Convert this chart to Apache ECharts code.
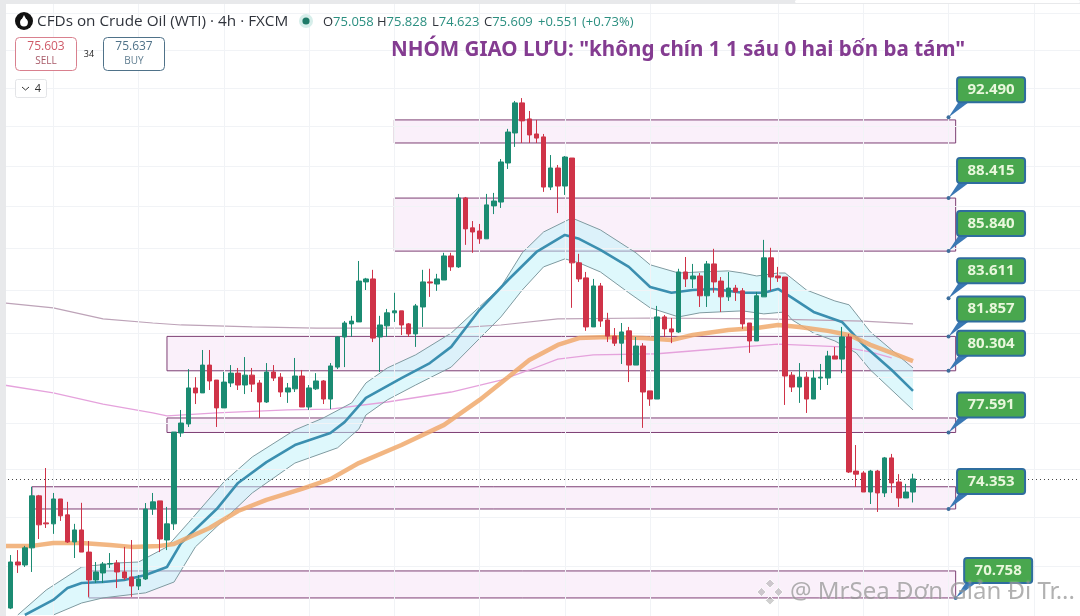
<!DOCTYPE html>
<html><head><meta charset="utf-8">
<script src="https://cdn.jsdelivr.net/npm/echarts@6/dist/echarts.min.js"></script>
<style>html,body{margin:0;padding:0;background:#fff}#c{width:1080px;height:616px}</style>
</head><body><div id="c"></div>
<script>
const opens=[70.36,72.19,72.07,72.76,74.90,73.78,73.74,74.77,74.11,73.00,
73.49,72.59,71.47,71.75,72.11,72.15,71.79,71.59,71.23,71.51,
74.35,74.69,73.08,73.74,77.57,77.96,79.54,79.32,80.56,79.89,
78.66,79.76,80.20,79.67,80.11,79.76,78.92,80.25,80.02,79.36,
79.50,80.07,78.70,79.50,79.85,79.05,80.47,81.83,82.43,82.52,
84.38,84.52,81.83,82.34,82.94,83.03,82.43,81.97,83.21,84.38,
84.28,84.47,85.61,85.09,88.42,86.96,86.81,86.43,88.03,88.22,
90.16,91.68,93.23,92.40,91.63,91.48,88.96,89.91,89.01,90.41,
85.28,84.57,82.29,84.19,82.61,81.87,81.55,82.11,80.56,81.42,
79.41,79.05,82.75,82.20,82.06,84.85,84.52,84.66,83.73,85.23,
84.42,83.68,84.09,83.96,82.47,81.65,83.68,85.52,84.66,84.61,
80.11,79.58,80.02,79.05,79.98,79.98,80.97,80.83,81.83,75.94,
75.86,75.06,75.94,75.02,76.50,75.48,74.81,75.058];
const closes=[72.19,72.07,72.76,74.90,73.70,73.74,74.77,74.07,73.00,73.49,
72.59,71.47,71.79,72.11,72.13,71.79,71.55,71.23,71.51,74.35,
74.65,73.12,73.74,77.61,78.00,79.54,79.32,80.56,79.85,78.66,
79.80,80.20,79.67,80.11,79.71,78.92,80.25,79.98,79.36,79.54,
80.07,78.70,79.54,79.85,79.05,80.52,81.83,82.47,82.56,84.42,
84.52,81.78,82.38,82.94,83.03,82.38,81.97,83.26,84.38,84.33,
84.52,85.61,85.09,88.42,86.91,86.76,86.43,88.08,88.27,90.21,
91.73,93.23,92.30,91.58,91.42,88.96,89.91,89.01,90.46,85.28,
84.52,82.29,84.19,82.56,81.87,81.55,82.06,80.56,81.42,79.36,
79.05,82.75,82.20,82.06,84.85,84.52,84.66,83.73,85.23,84.38,
83.68,84.09,83.91,82.43,81.65,83.73,85.52,84.61,84.57,80.07,
79.58,80.02,79.05,79.98,80.02,80.97,80.83,81.83,75.90,75.81,
75.06,75.94,75.02,76.50,75.44,74.81,75.06,75.609];
const highs=[72.47,72.67,72.84,75.28,74.94,76.07,75.02,74.77,74.65,73.74,
74.61,73.04,72.19,72.19,72.55,72.27,72.80,73.08,71.67,74.60,
75.02,74.69,74.44,77.61,78.57,80.38,80.02,81.24,81.24,79.89,
80.25,80.56,80.43,80.92,80.43,79.89,80.65,80.56,80.20,79.76,
80.88,80.34,79.67,80.20,79.89,80.65,81.87,82.56,82.80,85.37,
84.57,84.95,82.80,83.12,83.87,83.03,82.47,83.35,84.95,85.00,
84.76,85.76,85.76,88.62,88.47,87.29,87.15,88.62,88.67,90.36,
91.89,93.33,93.48,92.81,92.35,91.63,90.56,90.06,90.51,90.41,
85.71,84.85,84.52,84.33,82.94,82.24,82.47,82.29,81.83,81.55,
79.41,83.26,82.84,82.70,85.00,85.56,85.23,84.80,85.37,85.95,
84.61,84.85,84.24,84.09,82.47,83.91,86.38,86.00,85.09,84.61,
80.25,80.65,80.25,80.34,80.61,81.20,81.38,82.29,81.97,77.05,
75.94,75.99,75.99,76.54,76.67,75.81,75.40,75.828];
const lows=[70.32,71.75,71.99,71.79,73.12,73.57,73.33,73.86,72.96,72.35,
72.59,70.80,71.35,71.35,71.95,71.15,71.47,70.80,71.07,71.47,
74.11,72.59,72.67,73.49,77.40,77.83,78.83,79.32,79.45,77.83,
78.66,79.58,79.45,79.27,79.36,78.22,78.88,79.85,79.14,78.88,
79.36,78.70,78.57,79.45,78.83,78.61,80.38,80.47,81.83,82.52,
84.00,81.60,80.25,81.83,82.52,81.92,81.83,81.38,82.29,83.68,
83.96,84.47,84.90,85.04,86.14,85.76,86.19,86.43,87.63,87.93,
89.86,90.97,91.17,91.17,91.17,88.72,88.81,87.68,88.57,83.17,
84.38,82.11,82.29,82.29,81.60,81.42,80.61,79.80,80.56,77.79,
78.75,79.05,81.83,81.55,82.02,84.14,84.09,83.21,83.21,83.87,
82.98,83.49,83.49,82.20,81.11,81.65,83.68,83.96,84.38,78.79,
79.36,78.88,78.44,79.05,79.45,79.67,80.83,80.20,75.86,75.27,
75.06,74.56,74.23,74.85,75.02,74.44,74.81,74.623];

// [bar index, price] readings of the moving averages and their band
const maOrange=[[0,72.84],[4,72.84],[7,72.96],[11,72.96],[15,72.88],[18,72.80],[22,72.84],[24,72.92],[29,73.57],[33,74.27],[37,74.73],[42,75.19],[46,75.60],[50,76.28],[56,77.05],[62,77.92],[67,79.01],[71,80.02],[74,80.79],[78,81.47],[81,81.78],[85,81.83],[90,81.78],[94,81.69],[97,81.92],[102,82.15],[106,82.24],[109,82.38],[112,82.29],[116,82.11],[119,81.92],[122,81.47],[125,81.11],[128,80.74]];
const bandMiddle=[[3,70.09],[7,70.68],[9,71.15],[11,71.35],[14,71.39],[17,71.47],[20,71.67],[23,71.99],[25,72.96],[30,74.35],[33,75.44],[37,76.32],[41,77.05],[46,77.57],[48,78.04],[51,79.10],[56,79.98],[60,80.65],[63,81.38],[67,83.08],[71,84.47],[75,85.80],[79,86.62],[81,86.43],[84,85.90],[88,85.09],[91,84.14],[94,83.87],[97,84.00],[100,84.05],[104,83.87],[107,83.87],[109,84.05],[111,83.63],[114,82.98],[118,82.52],[121,81.47],[125,80.34],[128,79.41]];
const bandUpper=[[2,70.09],[6,71.07],[11,71.99],[16,72.15],[19,72.19],[23,72.80],[26,73.78],[31,75.48],[35,76.54],[41,77.70],[45,78.22],[49,78.88],[51,79.76],[54,80.43],[58,81.02],[63,82.01],[70,84.14],[73,85.76],[76,86.76],[80,87.44],[84,86.86],[89,85.76],[91,85.19],[95,84.80],[98,84.85],[102,84.90],[104,84.80],[106,84.66],[109,84.80],[110,84.80],[113,84.00],[117,83.49],[119,83.31],[122,82.06],[125,81.24],[128,80.43]];
const bandLower=[[7,70.09],[11,70.56],[14,70.76],[20,70.96],[24,71.39],[27,72.80],[31,73.90],[35,75.02],[41,76.28],[47,76.93],[50,77.74],[51,78.35],[54,79.01],[58,79.67],[63,80.47],[70,82.75],[73,84.00],[76,85.09],[79,85.47],[81,85.28],[84,84.85],[88,83.87],[91,83.17],[95,82.75],[98,82.94],[104,83.03],[107,82.89],[110,82.98],[111,82.61],[114,82.01],[117,81.65],[120,81.11],[122,80.34],[128,78.57]];
const smaSlow=[[0,83.40],[7,83.17],[14,82.66],[21,82.47],[25,82.38],[35,82.29],[44,82.24],[58,82.24],[63,82.24],[70,82.38],[78,82.66],[91,82.70],[107,82.66],[121,82.56],[128,82.43]];
const smaPink=[[0,79.67],[7,79.32],[14,78.83],[21,78.44],[23,78.31],[30,78.44],[40,78.57],[46,78.61],[54,78.92],[63,79.36],[70,79.89],[74,80.34],[78,80.83],[83,81.02],[92,81.07],[102,81.33],[109,81.51],[118,81.38],[122,81.15],[125,80.88]];

// support / resistance zones: start bar, end bar, top price, bottom price
const zoneStart=[55,55,23,23,4,12];
const zoneEnd=[134,134,134,134,134,134];
const zoneTop=[92.35,88.415,81.857,78.22,75.28,71.83];
const zoneBottom=[91.17,85.84,80.304,77.591,74.353,70.758];

// callout labels
const calloutPrices=[92.490,88.415,85.840,83.611,81.857,80.304,77.591,74.353,70.758];
const calloutBars=[133,133,133,133,133,133,133,133,134];
const calloutTexts=['92.490','88.415','85.840','83.611','81.857','80.304','77.591','74.353','70.758'];

const priceTicks=[72,74,76,78,80,82,84,86,88,90,92,94,96,98];
const timeTicks=[7,19,31,43,55,67,79,91,109,121,133,145];
const lastPrice=75.609;
const priceMin=70.05, priceMax=98.73;

const titleText='CFDs on Crude Oil (WTI) · 4h · FXCM';
const promoText='NHÓM GIAO LƯU: "không chín 1 1 sáu 0 hai bốn ba tám"';
const sellPrice='75.603', buyPrice='75.637', spread='34';
const ohlcKeys=['O','H','L','C'];
const ohlcValues=['75.058','75.828','74.623','75.609'];
const ohlcChange='+0.551 (+0.73%)';
const watermark='@ MrSea Đơn Giản Đi Tr...';

const GREEN='#1b8b72', RED='#cf3348', FONT='"Open Sans","Noto Sans",sans-serif';
const N=152;
const categories=Array.from({length:N},(_,i)=>String(i));
const candles=[['-','-','-','-']].concat(opens.map((o,i)=>[o,closes[i],lows[i],highs[i]]));

const chart=echarts.init(document.getElementById('c'),null,{renderer:'canvas'});

function lineSeries(data,color,width,z,opacity){
  return {type:'line',data:data,symbol:'none',silent:true,z:z,smooth:false,
    lineStyle:{color:color,width:width,opacity:opacity==null?1:opacity}};
}
const faint={color:'#f1f3f6',width:1,type:'solid'};
const gridLines=priceTicks.map(p=>({yAxis:p,lineStyle:faint})).concat(timeTicks.map(i=>({xAxis:i,lineStyle:faint})));
gridLines.push({yAxis:lastPrice,lineStyle:{color:'#444',width:1,type:[1,3]}});

const ohlcX=[323,377,432,484];
const ohlcGraphics=[];
ohlcKeys.forEach((k,i)=>{
  ohlcGraphics.push({type:'text',z:100,style:{x:ohlcX[i],y:22,text:'{k|'+k+'}{v|'+ohlcValues[i]+'}',verticalAlign:'middle',font:'13px '+FONT,
    rich:{k:{fill:'#30343c',font:'13px '+FONT},v:{fill:'#2b8f80',font:'13px '+FONT}}}});
});
ohlcGraphics.push({type:'text',z:100,style:{x:538,y:22,text:ohlcChange,verticalAlign:'middle',fill:'#2b8f80',font:'13px '+FONT}});

const logoCx=770, logoCy=592;
const logoGraphics=[[0,-8.5],[8.5,0],[0,8.5],[-8.5,0]].map(d=>({type:'polygon',z:90,
  shape:{points:[[logoCx+d[0],logoCy+d[1]-4.5],[logoCx+d[0]+4.5,logoCy+d[1]],[logoCx+d[0],logoCy+d[1]+4.5],[logoCx+d[0]-4.5,logoCy+d[1]]]},
  style:{fill:'rgba(150,150,150,0.45)',stroke:'rgba(255,255,255,0.85)',lineWidth:1}}));

chart.setOption({
  animation:false,
  grid:{left:-1.2,top:0,width:1082.2,height:616,containLabel:false},
  xAxis:{type:'category',data:categories,boundaryGap:true,show:false},
  yAxis:{type:'log',min:priceMin,max:priceMax,show:false},
  series:[
    {type:'line',data:[],silent:true,z:1,markLine:{silent:true,symbol:'none',label:{show:false},animation:false,data:gridLines}},
    {type:'custom',z:2,silent:true,coordinateSystem:'cartesian2d',data:zoneStart.map((s,i)=>[s,zoneTop[i]]),
      renderItem:function(p,api){
        const i=p.dataIndex,a=api.coord([zoneStart[i],zoneTop[i]]),b=api.coord([zoneEnd[i],zoneBottom[i]]);
        return {type:'rect',shape:{x:a[0],y:a[1],width:b[0]-a[0],height:b[1]-a[1]},
          style:{fill:'rgba(236,200,238,0.28)',stroke:'#7d3f74',lineWidth:1}};
      }},
    {type:'custom',z:3,silent:true,coordinateSystem:'cartesian2d',data:[[0,priceMin]],
      renderItem:function(p,api){
        const pts=bandUpper.map(d=>api.coord(d)).concat(bandLower.slice().reverse().map(d=>api.coord(d)));
        return {type:'polygon',shape:{points:pts},style:{fill:'rgba(190,242,250,0.5)'}};
      }},
    lineSeries(smaSlow,'#bda3b8',1.2,4),
    lineSeries(smaPink,'#e5a2dc',1.3,4),
    lineSeries(bandUpper,'#7f9aa0',1,4),
    lineSeries(bandLower,'#7f9aa0',1,4),
    lineSeries(bandMiddle,'#3b8fb0',2.6,5),
    lineSeries(maOrange,'#f0a96c',4.5,5,0.85),
    {type:'candlestick',data:candles,z:6,barWidth:5,silent:true,
      itemStyle:{color:GREEN,color0:RED,borderColor:GREEN,borderColor0:RED,borderWidth:1}},
    {type:'custom',z:8,silent:true,coordinateSystem:'cartesian2d',data:calloutBars.map((b,i)=>[b,calloutPrices[i]]),
      renderItem:function(p,api){
        const i=p.dataIndex,a=api.coord([calloutBars[i],calloutPrices[i]]);
        const x=a[0]+8.5,y=a[1]-40,w=68,h=25;
        return {type:'group',children:[
          {type:'polygon',shape:{points:[a,[x+2,y+h-1],[x+13,y+h-1]]},style:{fill:'#3a78b4'}},
          {type:'circle',shape:{cx:a[0],cy:a[1],r:2},style:{fill:'#3d6e9c'}},
          {type:'rect',shape:{x:x,y:y,width:w,height:h,r:3},style:{fill:'#49a74e',stroke:'#2f6d9e',lineWidth:2}},
          {type:'text',style:{x:x+w/2,y:y+h/2,text:calloutTexts[i],align:'center',verticalAlign:'middle',fill:'#e9f7dc',font:'bold 15px '+FONT}}
        ]};
      }}
  ],
  graphic:[
    {type:'rect',z:100,shape:{x:0,y:0,width:1080,height:4},style:{fill:'#e8e9eb'}},
    {type:'rect',z:101,shape:{x:795,y:0,width:285,height:3,r:2},style:{fill:'#fff'}},
    {type:'rect',z:100,shape:{x:0,y:0,width:6,height:616},style:{fill:'#e8e9eb'}},
    {type:'circle',z:100,shape:{cx:24,cy:21,r:9},style:{fill:'#111'}},
    {type:'polygon',z:101,shape:{points:[[24,15],[20.4,22],[27.6,22]]},style:{fill:'#fff'}},
    {type:'circle',z:101,shape:{cx:24,cy:22.5,r:3.9},style:{fill:'#fff'}},
    {type:'text',z:100,style:{x:37,y:22,text:titleText,verticalAlign:'middle',fill:'#30343c',font:'15.3px '+FONT}},
    {type:'circle',z:100,shape:{cx:306,cy:21,r:7},style:{fill:'#d6eeea'}},
    {type:'circle',z:101,shape:{cx:306,cy:21,r:3.6},style:{fill:'#1f7a68'}}
  ].concat(ohlcGraphics,logoGraphics,[
    {type:'text',z:100,style:{x:391,y:50,text:promoText,verticalAlign:'middle',fill:'#843c91',font:'bold 20.6px "Noto Sans",sans-serif'}},
    {type:'rect',z:100,shape:{x:15.5,y:37.5,width:61,height:33,r:4},style:{fill:'#fff',stroke:'#d9808e',lineWidth:1}},
    {type:'text',z:100,style:{x:46,y:47,text:sellPrice,align:'center',verticalAlign:'middle',fill:'#cf5a68',font:'12px '+FONT}},
    {type:'text',z:100,style:{x:46,y:61,text:'SELL',align:'center',verticalAlign:'middle',fill:'#a85a68',font:'10px '+FONT}},
    {type:'text',z:100,style:{x:89,y:54,text:spread,align:'center',verticalAlign:'middle',fill:'#222',font:'9px '+FONT}},
    {type:'rect',z:100,shape:{x:103.5,y:37.5,width:61,height:33,r:4},style:{fill:'#fff',stroke:'#4f7289',lineWidth:1}},
    {type:'text',z:100,style:{x:134,y:47,text:buyPrice,align:'center',verticalAlign:'middle',fill:'#4f7289',font:'12px '+FONT}},
    {type:'text',z:100,style:{x:134,y:61,text:'BUY',align:'center',verticalAlign:'middle',fill:'#5f7d90',font:'10px '+FONT}},
    {type:'rect',z:100,shape:{x:15.5,y:79.5,width:31,height:18,r:2},style:{fill:'#fff',stroke:'#e3e4e7',lineWidth:1}},
    {type:'polyline',z:100,shape:{points:[[22,87],[25.5,90],[29,87]]},style:{stroke:'#333',lineWidth:1,fill:null}},
    {type:'text',z:100,style:{x:38,y:89,text:'4',align:'center',verticalAlign:'middle',fill:'#333',font:'11px '+FONT}},
    {type:'text',z:90,style:{x:790,y:592,text:watermark,verticalAlign:'middle',fill:'rgba(125,125,125,0.6)',font:'24px "Noto Sans",sans-serif',
      textShadowColor:'rgba(255,255,255,0.95)',textShadowBlur:2}}
  ])
});
</script></body></html>
